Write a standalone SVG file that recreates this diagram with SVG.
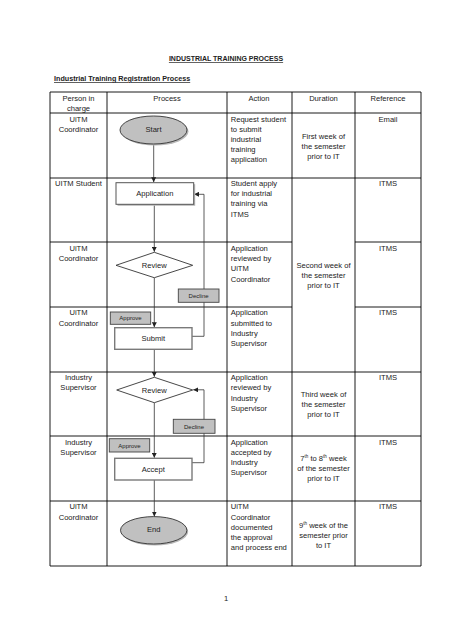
<svg xmlns="http://www.w3.org/2000/svg" width="453" height="640" viewBox="0 0 453 640">
<defs>
<marker id="arr" viewBox="0 0 6 6" refX="6" refY="3" markerWidth="5" markerHeight="5" orient="auto" markerUnits="userSpaceOnUse">
<path d="M0,0 L6,3 L0,6 z" fill="#222"/>
</marker>
</defs>
<style>
text{font-family:"Liberation Sans",Arial,sans-serif;font-size:7.6px;fill:#222}
.c{text-anchor:middle}
.b{font-weight:bold;text-decoration:underline}
.sm{font-size:6px}
.sup{font-size:4.5px}
.grid line{stroke:#000;stroke-width:0.9}
.oval{fill:#c0c0c0;stroke:#333;stroke-width:0.9}
.box{fill:#fff;stroke:#555;stroke-width:1}
.box2{fill:#fff;stroke:#7a7a7a;stroke-width:1.4}
.shadow{fill:#b8b8b8;stroke:none}
.dia{fill:#fff;stroke:#333;stroke-width:0.9}
.tag{fill:#c0c0c0;stroke:#444;stroke-width:0.9}
.conn path{fill:none;stroke:#333;stroke-width:0.8}
</style>
<rect width="453" height="640" fill="#fff"/>
<text class="c b" x="226" y="61" style="font-size:7px">INDUSTRIAL TRAINING PROCESS</text>
<text class="b" x="54" y="81" style="font-size:7.2px">Industrial Training Registration Process</text>
<g class="grid">
<line x1="50" y1="92" x2="421" y2="92"/>
<line x1="50" y1="113" x2="421" y2="113"/>
<line x1="50" y1="178" x2="421" y2="178"/>
<line x1="50" y1="242" x2="292" y2="242"/>
<line x1="355" y1="242" x2="421" y2="242"/>
<line x1="50" y1="307" x2="292" y2="307"/>
<line x1="355" y1="307" x2="421" y2="307"/>
<line x1="50" y1="372" x2="421" y2="372"/>
<line x1="50" y1="436" x2="421" y2="436"/>
<line x1="50" y1="501" x2="421" y2="501"/>
<line x1="50" y1="566" x2="421" y2="566"/>
<line x1="50" y1="92" x2="50" y2="566"/>
<line x1="107" y1="92" x2="107" y2="566"/>
<line x1="227" y1="92" x2="227" y2="566"/>
<line x1="292" y1="92" x2="292" y2="566"/>
<line x1="355" y1="92" x2="355" y2="566"/>
<line x1="421" y1="92" x2="421" y2="566"/>
</g>
<g id="header">
<text class="c" x="78.5" y="101">Person in</text>
<text class="c" x="78.5" y="111">charge</text>
<text class="c" x="167" y="101">Process</text>
<text class="c" x="259" y="101">Action</text>
<text class="c" x="323.5" y="101">Duration</text>
<text class="c" x="388" y="101">Reference</text>
</g>
<g id="row-text">
<text class="c" x="78.5" y="121.7">UiTM</text>
<text class="c" x="78.5" y="131.7">Coordinator</text>
<text x="230.7" y="121.7">Request student</text>
<text x="230.7" y="131.7">to submit</text>
<text x="230.7" y="141.7">industrial</text>
<text x="230.7" y="152">training</text>
<text x="230.7" y="162">application</text>
<text class="c" x="323.5" y="138.7">First week of</text>
<text class="c" x="323.5" y="149">the semester</text>
<text class="c" x="323.5" y="159">prior to IT</text>
<text class="c" x="388" y="121.7">Email</text>

<text class="c" x="78.5" y="186.4">UITM Student</text>
<text x="230.7" y="186.4">Student apply</text>
<text x="230.7" y="196.4">for industrial</text>
<text x="230.7" y="206.4">training via</text>
<text x="230.7" y="216.7">ITMS</text>
<text class="c" x="388" y="186.4">ITMS</text>

<text class="c" x="78.5" y="250.7">UiTM</text>
<text class="c" x="78.5" y="261">Coordinator</text>
<text x="230.7" y="250.7">Application</text>
<text x="230.7" y="261">reviewed by</text>
<text x="230.7" y="271.4">UiTM</text>
<text x="230.7" y="281.7">Coordinator</text>
<text class="c" x="323.5" y="267.7">Second week of</text>
<text class="c" x="323.5" y="277.7">the semester</text>
<text class="c" x="323.5" y="287.7">prior to IT</text>
<text class="c" x="388" y="250.7">ITMS</text>

<text class="c" x="78.5" y="315.4">UiTM</text>
<text class="c" x="78.5" y="325.7">Coordinator</text>
<text x="230.7" y="315.4">Application</text>
<text x="230.7" y="325.7">submitted to</text>
<text x="230.7" y="336">Industry</text>
<text x="230.7" y="346">Supervisor</text>
<text class="c" x="388" y="315.4">ITMS</text>

<text class="c" x="78.5" y="380">Industry</text>
<text class="c" x="78.5" y="390.4">Supervisor</text>
<text x="230.7" y="380">Application</text>
<text x="230.7" y="390.4">reviewed by</text>
<text x="230.7" y="400.7">Industry</text>
<text x="230.7" y="410.7">Supervisor</text>
<text class="c" x="323.5" y="396.7">Third week of</text>
<text class="c" x="323.5" y="407">the semester</text>
<text class="c" x="323.5" y="417.4">prior to IT</text>
<text class="c" x="388" y="380">ITMS</text>

<text class="c" x="78.5" y="444.7">Industry</text>
<text class="c" x="78.5" y="455">Supervisor</text>
<text x="230.7" y="444.7">Application</text>
<text x="230.7" y="455">accepted by</text>
<text x="230.7" y="465">Industry</text>
<text x="230.7" y="475.4">Supervisor</text>
<text class="c" x="323.5" y="461">7<tspan class="sup" dy="-2.8">th</tspan><tspan dy="2.8"> to 8</tspan><tspan class="sup" dy="-2.8">th</tspan><tspan dy="2.8">  week</tspan></text>
<text class="c" x="323.5" y="471">of the semester</text>
<text class="c" x="323.5" y="481">prior to IT</text>
<text class="c" x="388" y="444.7">ITMS</text>

<text class="c" x="78.5" y="509.4">UiTM</text>
<text class="c" x="78.5" y="519.7">Coordinator</text>
<text x="230.7" y="509.4">UiTM</text>
<text x="230.7" y="519.7">Coordinator</text>
<text x="230.7" y="529.7">documented</text>
<text x="230.7" y="539.7">the approval</text>
<text x="230.7" y="550">and process end</text>
<text class="c" x="323.5" y="527.7">9<tspan class="sup" dy="-2.8">th</tspan><tspan dy="2.8"> week of the</tspan></text>
<text class="c" x="323.5" y="537.7">semester prior</text>
<text class="c" x="323.5" y="547.7">to IT</text>
<text class="c" x="388" y="509.4">ITMS</text>
</g>
<g id="connectors" class="conn">
<path d="M153.7,144 V182.2" marker-end="url(#arr)"/>
<path d="M154.3,204.3 V251.8" marker-end="url(#arr)"/>
<path d="M154.3,277.7 V327.2" marker-end="url(#arr)"/>
<path d="M192,336.3 H204 V194.3 H194" marker-end="url(#arr)"/>
<path d="M154.3,349.3 V376.8" marker-end="url(#arr)"/>
<path d="M154.3,402.7 V457.8" marker-end="url(#arr)"/>
<path d="M192,462.7 H204 V389.8 H193.2" marker-end="url(#arr)"/>
<path d="M154.3,480 V516.5" marker-end="url(#arr)"/>
</g>
<g id="start">
<ellipse class="shadow" cx="155" cy="131.5" rx="33.5" ry="14"/>
<ellipse class="oval" cx="153.5" cy="130" rx="33.5" ry="14"/>
<text class="c" x="153.5" y="131.7">Start</text>
</g>
<g id="application">
<rect class="shadow" x="117.5" y="184.2" width="77.7" height="21.6"/>
<rect class="box" x="116" y="182.7" width="77.7" height="21.6"/>
<text class="c" x="154.8" y="196.2">Application</text>
</g>
<g id="review1">
<polygon class="dia" points="154.3,252.3 192.7,265.3 154.3,277.7 116,265.3"/>
<text class="c" x="154.3" y="268">Review</text>
</g>
<g id="decline1">
<rect class="tag" x="178.3" y="289" width="40.7" height="13.3"/>
<text class="c sm" x="198.6" y="298">Decline</text>
</g>
<g id="approve1">
<rect class="tag" x="110.3" y="312" width="40.4" height="12.3"/>
<text class="c sm" x="130.5" y="320.3">Approve</text>
</g>
<g id="submit">
<rect class="box2" x="114.7" y="327.7" width="77.3" height="21.6"/>
<text class="c" x="153.3" y="341.2">Submit</text>
</g>
<g id="review2">
<polygon class="dia" points="154.3,377.3 192.7,390 154.3,402.7 116.7,390"/>
<text class="c" x="154.3" y="392.7">Review</text>
</g>
<g id="decline2">
<rect class="tag" x="173.3" y="419.3" width="41.7" height="14"/>
<text class="c sm" x="194" y="428.6">Decline</text>
</g>
<g id="approve2">
<rect class="tag" x="109.3" y="438.7" width="40.4" height="13.3"/>
<text class="c sm" x="129.5" y="447.5">Approve</text>
</g>
<g id="accept">
<rect class="box2" x="114.7" y="458.3" width="77.3" height="21.7"/>
<text class="c" x="153.3" y="471.7">Accept</text>
</g>
<g id="end">
<ellipse class="shadow" cx="155" cy="531.8" rx="33.2" ry="13.7"/>
<ellipse class="oval" cx="153.7" cy="530.3" rx="33.2" ry="13.7"/>
<text class="c" x="153.7" y="531.5">End</text>
</g>
<text class="c" x="226" y="600.7">1</text>
</svg>
